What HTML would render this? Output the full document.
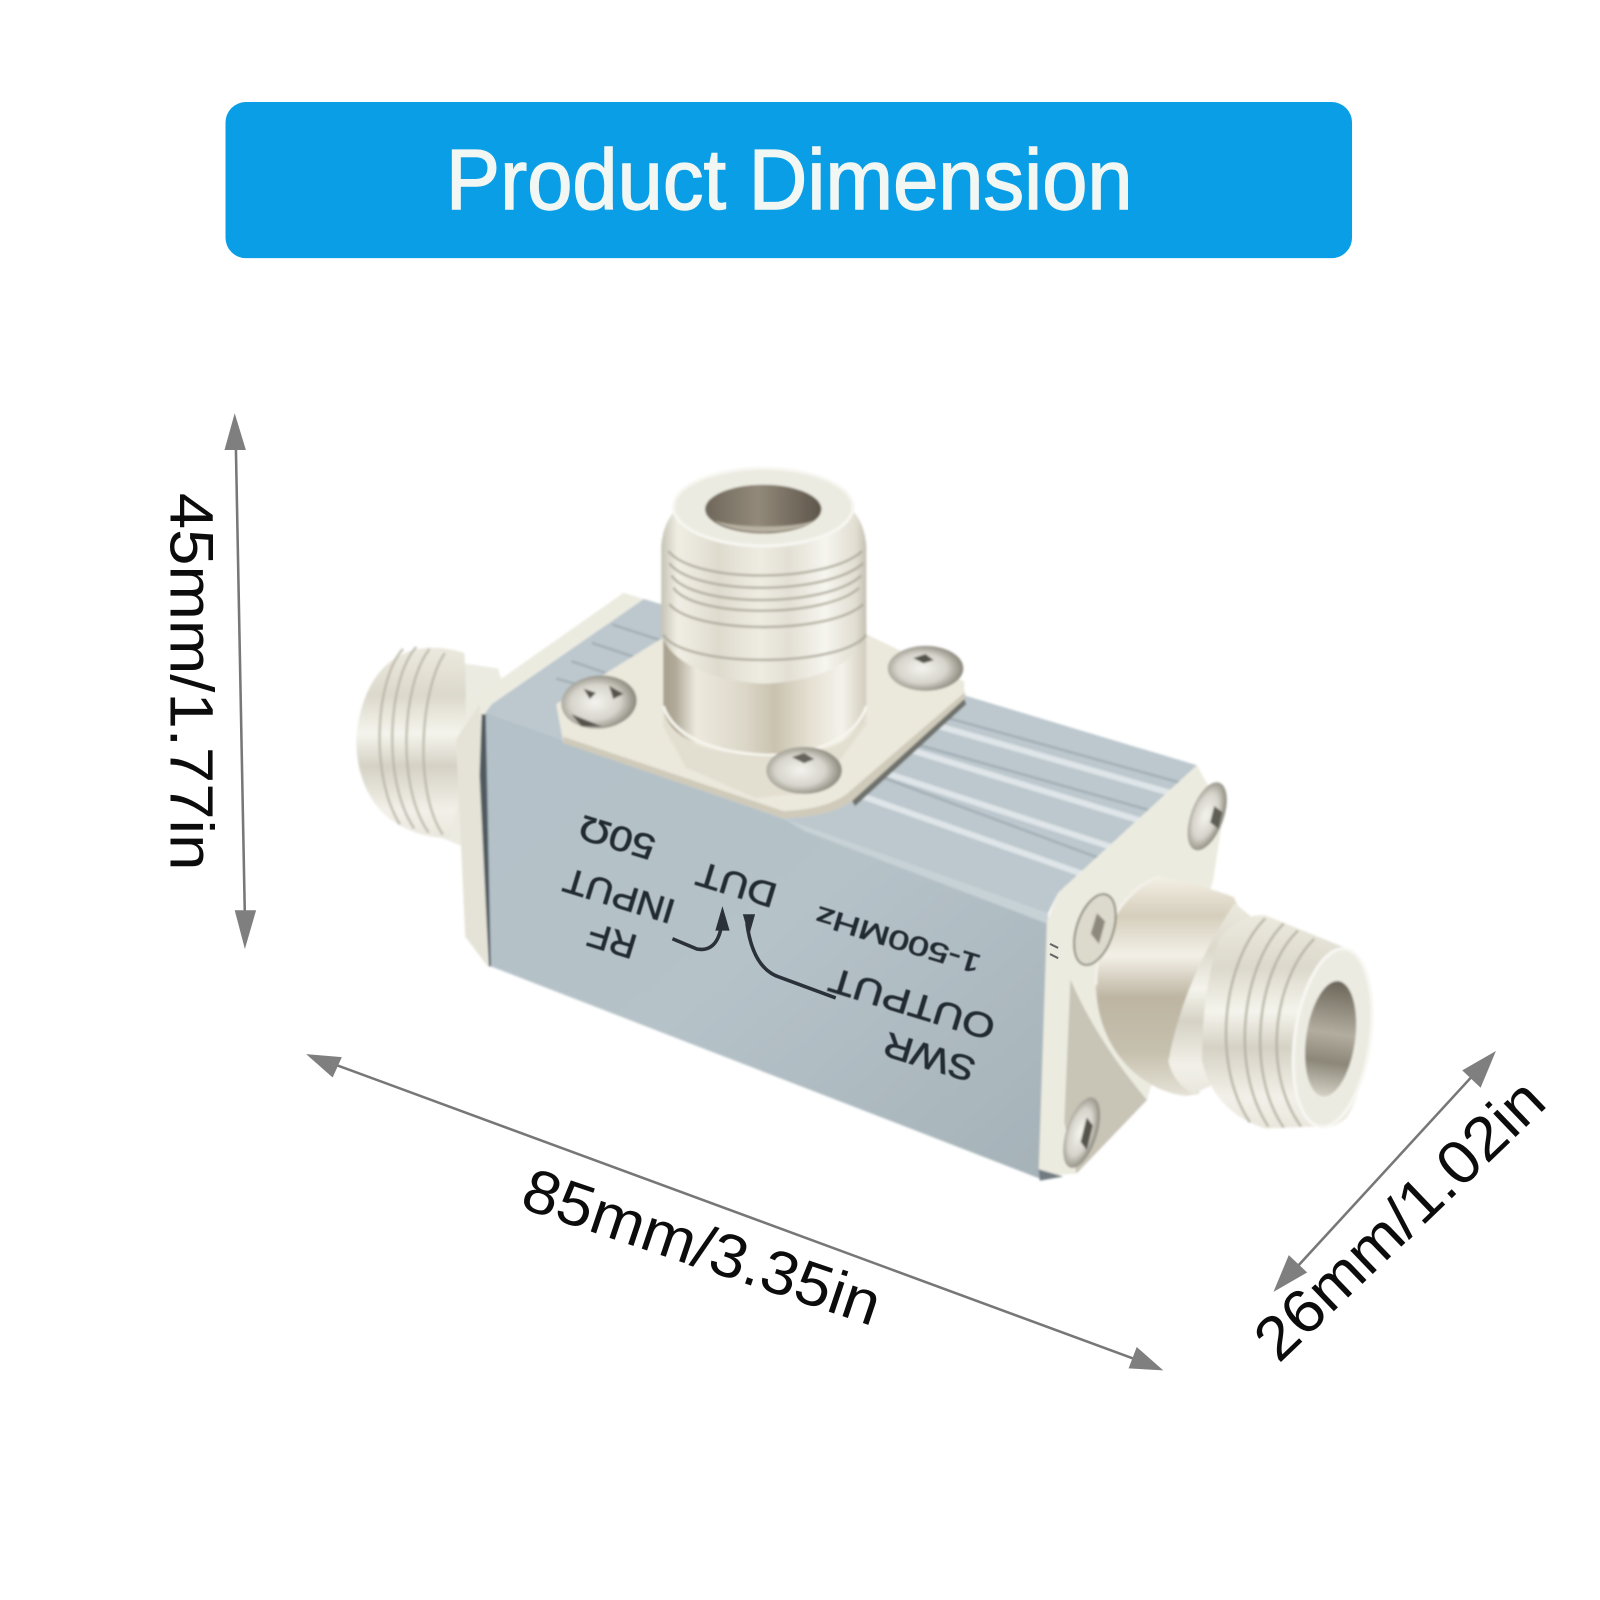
<!DOCTYPE html>
<html><head><meta charset="utf-8"><title>Product Dimension</title>
<style>html,body{margin:0;padding:0;background:#fff}svg{display:block}text{font-family:"Liberation Sans",sans-serif}</style></head>
<body>
<svg width="1600" height="1600" viewBox="0 0 1568 1568" xmlns="http://www.w3.org/2000/svg">
<defs>
<filter id="b" x="-5%" y="-5%" width="110%" height="110%"><feGaussianBlur stdDeviation="1.1"/></filter>
<filter id="t" x="-5%" y="-5%" width="110%" height="110%"><feGaussianBlur stdDeviation="0.5"/></filter>
<linearGradient id="mH" x1="0" x2="1" y1="0" y2="0">
<stop offset="0" stop-color="#c6c3b5"/><stop offset=".08" stop-color="#f0eee4"/><stop offset=".28" stop-color="#dedbce"/><stop offset=".48" stop-color="#eeece2"/><stop offset=".62" stop-color="#e2dfd4"/><stop offset=".8" stop-color="#f6f5ee"/><stop offset=".95" stop-color="#e0ddd1"/><stop offset="1" stop-color="#c4c0b2"/>
</linearGradient>
<linearGradient id="mL" x1="0" x2="1" y1="0" y2="0">
<stop offset="0" stop-color="#a8a08d"/><stop offset=".06" stop-color="#b0a998"/><stop offset=".16" stop-color="#ece9dd"/><stop offset=".4" stop-color="#dcd7c8"/><stop offset=".55" stop-color="#c9c2af"/><stop offset=".72" stop-color="#e4e0d2"/><stop offset=".88" stop-color="#f4f2ea"/><stop offset="1" stop-color="#d2cdbd"/>
</linearGradient>
<linearGradient id="mV" x1="0" x2="0" y1="0" y2="1">
<stop offset="0" stop-color="#ebe9de"/><stop offset=".25" stop-color="#dcd9cc"/><stop offset=".45" stop-color="#f5f4ec"/><stop offset=".62" stop-color="#d5d2c5"/><stop offset=".85" stop-color="#f2f0e8"/><stop offset="1" stop-color="#e9e7dd"/>
</linearGradient>
<linearGradient id="mB" x1="0" x2="0" y1="0" y2="1">
<stop offset="0" stop-color="#f3efe4"/><stop offset=".18" stop-color="#d5cebc"/><stop offset=".36" stop-color="#f3f0e7"/><stop offset=".55" stop-color="#bdb5a2"/><stop offset=".8" stop-color="#c6c0ae"/><stop offset="1" stop-color="#e5e2d6"/>
</linearGradient>
<linearGradient id="bore" x1="0" x2="1" y1="0" y2="0">
<stop offset="0" stop-color="#6f675a"/><stop offset=".45" stop-color="#92897a"/><stop offset="1" stop-color="#5e564a"/>
</linearGradient>
<linearGradient id="bore2" x1="0" x2="0" y1="0" y2="1">
<stop offset="0" stop-color="#6b6558"/><stop offset=".45" stop-color="#b2ad9f"/><stop offset=".7" stop-color="#8c8778"/><stop offset="1" stop-color="#d4d1c5"/>
</linearGradient>
<linearGradient id="front" x1="0" x2="1" y1="0" y2="1">
<stop offset="0" stop-color="#b4c1c8"/><stop offset=".5" stop-color="#b5c2c8"/><stop offset="1" stop-color="#a5b2b8"/>
</linearGradient>
<radialGradient id="screw" cx=".45" cy=".5" r=".6">
<stop offset="0" stop-color="#f4f3ee"/><stop offset=".55" stop-color="#d6d4cb"/><stop offset="1" stop-color="#777468"/>
</radialGradient>
</defs>
<rect width="1568" height="1568" fill="#fff"/>

<rect x="221" y="100" width="1104" height="153" rx="20" ry="20" fill="#0a9ee6"/>
<text x="437" y="205" font-size="84" fill="#f3f7f3" stroke="#f3f7f3" stroke-width="1.4" textLength="673" lengthAdjust="spacingAndGlyphs">Product Dimension</text>

<g filter="url(#b)">
<!-- left connector -->
<path d="M440,648 L488,655 L492,668 L470,690 L455,830 L430,820 Z" fill="#ecebe2"/>
<path d="M455,640 C400,622 355,650 349,725 C350,780 378,818 440,822 C452,790 460,700 455,640 Z" fill="url(#mV)"/>
<g fill="none" stroke="#b8b4a6" stroke-width="2.5" opacity=".8">
<path d="M395,636 C368,665 362,760 392,808"/>
<path d="M408,634 C380,665 374,765 406,812"/>
<path d="M421,636 C394,670 388,770 420,816"/>
<path d="M436,640 C412,675 405,775 434,818"/>
</g>
<!-- left end plate -->
<path d="M611,581 L631,587 L482,690 L472,726 L478,947 L456,918 L447,725 L470,680 Z" fill="#ecebe0"/>
<path d="M447,725 L470,690 L472,726 L478,947 L456,918 Z" fill="#e5e3d7"/>
<path d="M472,700 L470,760 L479,947 L484,947 L477,700 Z" fill="#4f5a60"/>
<!-- top face -->
<path d="M631,587 L482,690 L476,698 L1027,895 L1037,875 L1173,750 Z" fill="#bcc8ce"/>
<g stroke="#e6ebed" stroke-width="6" opacity=".85" fill="none">
<path d="M880,700 L1150,778"/><path d="M860,725 L1120,805"/><path d="M845,750 L1095,832"/><path d="M830,775 L1065,858"/>
</g>
<g stroke="#96a3a9" stroke-width="2.5" opacity=".65" fill="none">
<path d="M880,690 L1160,768"/><path d="M900,730 L1130,795"/><path d="M860,760 L1080,842"/>
<path d="M600,612 L655,630"/><path d="M580,630 L640,650"/><path d="M560,648 L630,672"/><path d="M545,665 L600,680"/>
</g>
<!-- front face -->
<path d="M476,698 L481,947 L1019,1155 L1027,895 Z" fill="url(#front)"/>
<path d="M768,802 L1027,895 L1026,905 L790,815 Z" fill="#c7d2d7"/>
<!-- right plate -->
<path d="M1173,750 L1199,797 L1189,862 L1124,1078 L1055,1150 L1030,1152 L1018,1146 L1026,903 L1037,875 Z" fill="#ecebe0"/>
<path d="M1049,960 Q1075,1020 1124,1078 L1055,1150 L1043,1100 Z" fill="#c8c4b6"/>
<path d="M1018,1146 L1019,1157 L1042,1153 Z" fill="#6f7a80"/>
<!-- right connector base -->
<path d="M1137,859 Q1180,868 1209,879 L1215,892 L1175,1072 L1163,1074 C1120,1070 1075,1030 1074,965 C1073,920 1100,870 1137,859 Z" fill="url(#mB)"/>
<path d="M1137,859 C1100,870 1073,920 1074,965" fill="none" stroke="#f2f0e8" stroke-width="3"/>
<path d="M1210,885 Q1160,960 1145,1040 Q1150,1062 1170,1072 L1195,1060 L1228,900 Z" fill="url(#mV)"/>
<!-- right thread barrel -->
<path d="M1195,920 Q1215,895 1240,897 L1326,932 C1345,950 1345,1060 1320,1095 Q1305,1108 1290,1104 L1240,1106 Q1190,1090 1178,1040 Q1178,970 1195,920 Z" fill="url(#mV)"/>
<g fill="none" stroke="#b0ac9d" stroke-width="2.5" opacity=".8">
<path d="M1240,900 C1200,940 1185,1040 1225,1100"/>
<path d="M1258,905 C1218,945 1204,1045 1243,1104"/>
<path d="M1272,912 C1232,950 1220,1050 1258,1105"/>
<path d="M1288,920 C1248,960 1236,1050 1275,1104"/>
</g>
<ellipse cx="1306" cy="1017" rx="37" ry="88" transform="rotate(8 1306 1017)" fill="#ecebe2"/>
<ellipse cx="1306" cy="1017" rx="37" ry="88" transform="rotate(8 1306 1017)" fill="none" stroke="#f8f7f2" stroke-width="3"/>
<ellipse cx="1304" cy="1018" rx="24" ry="57" transform="rotate(8 1304 1018)" fill="url(#bore2)"/>
<!-- flange plate -->
<path d="M545,690 L648,626 L850,622 L945,668 L945,685 L835,785 Q815,800 768,802 L552,728 Z" fill="#ebe8dc"/>
<path d="M552,728 L768,802 Q815,800 835,785 L945,685 L946,678 L830,778 Q810,793 768,795 L552,722 Z" fill="#cfcaba"/>
<path d="M835,785 L945,685 L947,690 L838,790 Z" fill="#6e716c"/>
<!-- top connector lower cylinder -->
<path d="M650,690 L650,712 L672,752 L740,782 L800,776 L849,710 L849,690 Z" fill="#e3dfd0"/>
<path d="M650,610 L650,690 C650,725 700,742 752,742 C805,742 849,725 849,690 L849,610 Z" fill="url(#mL)"/>
<path d="M650,692 C660,722 700,738 750,740 C800,741 840,722 849,692" fill="none" stroke="#f6f5ed" stroke-width="3"/>
<!-- threads -->
<path d="M662,500 Q650,512 648,535 L648,620 C655,650 700,668 750,670 C800,668 842,650 849,620 L849,535 Q847,512 835,500 Z" fill="url(#mH)"/>
<g fill="none" stroke="#aba798" stroke-width="2.5" opacity=".8">
<path d="M655,540 C680,572 810,572 845,540"/>
<path d="M656,552 C680,584 810,584 846,552"/>
<path d="M658,564 C680,596 810,596 844,564"/>
<path d="M660,576 C680,606 810,606 842,576"/>
<path d="M656,592 C680,622 815,622 846,592"/>
<path d="M650,622 C670,655 825,655 849,622"/>
</g>
<ellipse cx="748" cy="497" rx="88" ry="38" fill="#ecebe1"/>
<ellipse cx="748" cy="497" rx="88" ry="38" fill="none" stroke="#f7f6f1" stroke-width="3"/>
<ellipse cx="748" cy="499" rx="57" ry="24" fill="url(#bore)"/>
<path d="M700,510 C720,525 780,525 798,510 C780,518 720,518 700,510 Z" fill="#b7b1a2"/>
<!-- screws -->
<ellipse cx="587" cy="688" rx="37" ry="26" fill="url(#screw)" transform="rotate(-5 587 688)"/>
<path d="M572,675 l12,4 l-6,6 z M597,672 l14,8 l-10,5 z M560,700 l30,12 l-20,0 z" fill="#55534b"/>
<ellipse cx="907" cy="655" rx="37" ry="22" fill="url(#screw)"/>
<path d="M895,645 l12,-4 l8,6 l-10,3 z" fill="#55534b"/>
<ellipse cx="788" cy="755" rx="37" ry="23" fill="url(#screw)"/>
<path d="M776,742 l12,-4 l10,6 l-10,4 z" fill="#66645b"/>
<ellipse cx="1183" cy="800" rx="16" ry="35" transform="rotate(20 1183 800)" fill="url(#screw)"/>
<path d="M1190,790 l8,6 l-4,16 l-8,-6 z" fill="#5f5d54"/>
<ellipse cx="1073" cy="911" rx="18" ry="36" transform="rotate(18 1073 911)" fill="#dcd9cd" stroke="#8f8c7f" stroke-width="2"/>
<path d="M1075,895 l8,8 l-6,22 l-8,-10 z" fill="#8d897b"/>
<ellipse cx="1060" cy="1110" rx="15" ry="36" transform="rotate(18 1060 1110)" fill="url(#screw)"/>
<path d="M1065,1095 l6,8 l-6,24 l-6,-8 z" fill="#55534b"/>
</g>

<!-- face labels -->
<g fill="#232a31" stroke="#232a31" stroke-width=".7" font-size="34" text-anchor="middle" dominant-baseline="central" filter="url(#t)">
<text transform="translate(605 820) rotate(197)" textLength="76" lengthAdjust="spacingAndGlyphs">50Ω</text>
<text transform="translate(607 877) rotate(197)" textLength="112" lengthAdjust="spacingAndGlyphs">INPUT</text>
<text transform="translate(600 921) rotate(197)" textLength="48" lengthAdjust="spacingAndGlyphs">RF</text>
<text transform="translate(722 866) rotate(197)" textLength="80" lengthAdjust="spacingAndGlyphs">DUT</text>
<text transform="translate(880 921) rotate(197)" font-size="26" textLength="168" lengthAdjust="spacingAndGlyphs">1-500MHz</text>
<text transform="translate(894 983) rotate(197)" textLength="168" lengthAdjust="spacingAndGlyphs">OUTPUT</text>
<text transform="translate(911 1035) rotate(197)" textLength="92" lengthAdjust="spacingAndGlyphs">SWR</text>
</g>
<g fill="none" stroke="#2b3138" stroke-width="3.5">
<path d="M659,920 L683,930 Q705,934 708,900"/>
<path d="M732,905 Q738,950 765,958 L819,978"/>
</g>
<path d="M708,888 L701,912 L715,912 Z" fill="#2b3138"/>
<path d="M734,917 L728,896 L740,896 Z" fill="#2b3138"/>
<path d="M1029,925 l8,4 m-8,6 l8,4" stroke="#666" stroke-width="2"/>

<!-- dimension arrows -->
<g fill="#7f7f7f" stroke="none">
<line x1="231" y1="430" x2="240" y2="900" stroke="#777" stroke-width="2.5"/>
<path d="M230,405 L220,441 L241,441 Z"/>
<path d="M240,930 L230,892 L251,892 Z"/>
<line x1="325" y1="1042" x2="1115" y2="1333" stroke="#777" stroke-width="2.5"/>
<path d="M300,1033 L335,1036 L326,1056 Z"/>
<path d="M1140,1343 L1106,1341 L1114,1320 Z"/>
<line x1="1447" y1="1050" x2="1268" y2="1245" stroke="#777" stroke-width="2.5"/>
<path d="M1466,1030 L1433,1049 L1451,1066 Z"/>
<path d="M1248,1266 L1281,1247 L1263,1230 Z"/>
</g>

<g fill="#0c0c0c" font-size="60">
<text transform="translate(167 483) rotate(90)" textLength="370" lengthAdjust="spacingAndGlyphs">45mm/1.77in</text>
<text transform="translate(508 1183) rotate(18.6)" textLength="366" lengthAdjust="spacingAndGlyphs">85mm/3.35in</text>
<text transform="translate(1253 1337) rotate(-43.8)" textLength="367" lengthAdjust="spacingAndGlyphs">26mm/1.02in</text>
</g>
</svg>
</body></html>
